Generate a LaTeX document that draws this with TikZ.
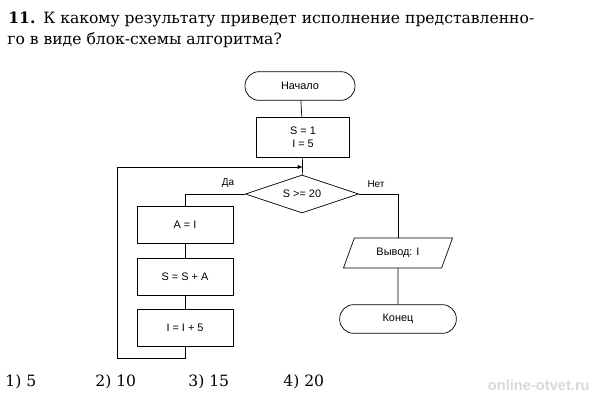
\documentclass[tikz,border=0pt]{standalone}
\usepackage{fontspec}
\setmainfont{DejaVu Serif}
\setsansfont{Liberation Sans}
\usetikzlibrary{shapes.geometric}

\tikzset{
	box/.style={draw, minimum width=2.88cm, minimum height=1.1cm, font=\sffamily\fontsize{9.3}{11}\selectfont},
	term/.style={draw, rounded corners=0.42cm, minimum height=0.86cm, font=\sffamily\fontsize{9.3}{11}\selectfont},
	cond/.style={draw, diamond, aspect=3, inner sep=1pt, minimum width=3.4cm, minimum height=1.14cm, font=\sffamily\fontsize{9.3}{11}\selectfont},
	io/.style={draw, trapezium, trapezium left angle=70, trapezium right angle=110, minimum width=3.3cm, minimum height=0.88cm, font=\sffamily\fontsize{9.3}{11}\selectfont},
	lbl/.style={font=\sffamily\fontsize{8.5}{10}\selectfont},
	txt/.style={anchor=base west, inner sep=0pt, font=\fontsize{13.3}{16}\selectfont}
}

\begin{document}
\begin{tikzpicture}[x=0.03cm, y=-0.03cm, line width=0.6pt]
	\useasboundingbox (0,0) rectangle (594,400);
	
	% question
	\node[txt] (num) at (8,24) {\textbf{11.}};
	\node[txt] (q1) at (43,24) {К какому результату приведет исполнение представленно-};
	\node[txt] (q2) at (7,45) {го в виде блок-схемы алгоритма?};
	
	% flowchart
	\node[term, minimum width=3.3cm] (start) at (300,86) {Начало};
	\node[box, minimum width=2.79cm, minimum height=1.2cm, align=center] (init) at (303,137) {S = 1\\I = 5};
	\node[cond] (test) at (302,194) {S >= 20};
	\node[box] (ai) at (185,225) {A = I};
	\node[box] (ss) at (185,277) {S = S + A};
	\node[box] (ii) at (185,328) {I = I + 5};
	\node[io] (out) at (398,253) {Вывод: I};
	\node[term, minimum width=3.5cm] (stop) at (398,319) {Конец};
	
	\coordinate (lb) at (117,358);
	\coordinate (lt) at (117,167);
	\coordinate (jn) at (init.south |- lt);
	
	\draw (start) -- (init);
	\draw (init) -- (test);
	\draw (test.west) -| (ai.north);
	\draw (ai) -- (ss);
	\draw (ss) -- (ii);
	\draw[-latex] (ii.south) -- (ii.south |- lb) -- (lb) -- (lt) -- (jn);
	\draw (test.east) -| (out.north);
	\draw (out) -- (stop);
	
	\node[lbl] (yes) at (228,183) {Да};
	\node[lbl] (no) at (376,184) {Нет};
	
	% answers
	\node[txt] (a1) at (5,386) {1) 5};
	\node[txt] (a2) at (95,386) {2) 10};
	\node[txt] (a3) at (188,386) {3) 15};
	\node[txt] (a4) at (283,386) {4) 20};
	
	\node[anchor=base east, inner sep=0pt, text=black!15, font=\sffamily\bfseries\fontsize{12.5}{14}\selectfont] (wm) at (590,390) {online-otvet.ru};
\end{tikzpicture}
\end{document}
